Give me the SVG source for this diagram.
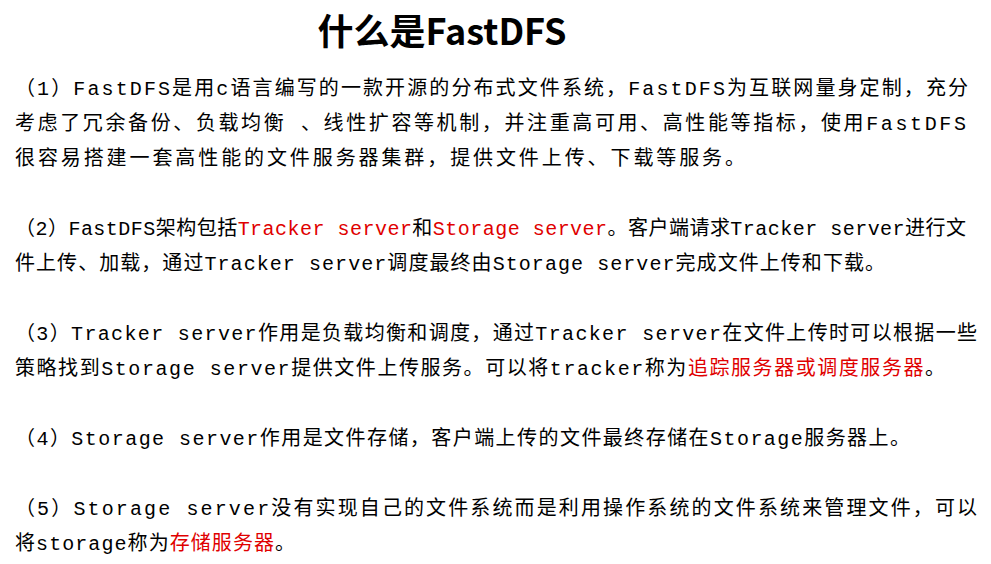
<svg xmlns="http://www.w3.org/2000/svg" width="991" height="564" viewBox="0 0 991 564">
<style>
.t{font-family:"Liberation Mono","Noto Sans CJK SC",monospace;font-size:20px;fill:#000}
.r{fill:#e00000}
.h{font-family:"Noto Sans CJK SC","Liberation Sans",sans-serif;font-size:36px;font-weight:bold;fill:#000}
</style>
<rect width="991" height="564" fill="#fff"/>
<text class="h" x="442" y="45" text-anchor="middle">什么是FastDFS</text>
<text class="t" x="15" y="95" textLength="953" lengthAdjust="spacing">（1）FastDFS是用c语言编写的一款开源的分布式文件系统，FastDFS为互联网量身定制，充分</text>
<text class="t" x="15" y="130" textLength="951" lengthAdjust="spacing">考虑了冗余备份、负载均衡 、线性扩容等机制，并注重高可用、高性能等指标，使用FastDFS</text>
<text class="t" x="15" y="165" textLength="730" lengthAdjust="spacing">很容易搭建一套高性能的文件服务器集群，提供文件上传、下载等服务。</text>
<text class="t" x="15" y="235" textLength="951" lengthAdjust="spacing">（2）FastDFS架构包括<tspan class="r">Tracker server</tspan>和<tspan class="r">Storage server</tspan>。客户端请求Tracker server进行文</text>
<text class="t" x="15" y="270" textLength="870" lengthAdjust="spacing">件上传、加载，通过Tracker server调度最终由Storage server完成文件上传和下载。</text>
<text class="t" x="15" y="340" textLength="962" lengthAdjust="spacing">（3）Tracker server作用是负载均衡和调度，通过Tracker server在文件上传时可以根据一些</text>
<text class="t" x="15" y="375" textLength="930" lengthAdjust="spacing">策略找到Storage server提供文件上传服务。可以将tracker称为<tspan class="r">追踪服务器或调度服务器</tspan>。</text>
<text class="t" x="15" y="445" textLength="895" lengthAdjust="spacing">（4）Storage server作用是文件存储，客户端上传的文件最终存储在Storage服务器上。</text>
<text class="t" x="15" y="515" textLength="962" lengthAdjust="spacing">（5）Storage server没有实现自己的文件系统而是利用操作系统的文件系统来管理文件，可以</text>
<text class="t" x="15" y="550" textLength="280" lengthAdjust="spacing">将storage称为<tspan class="r">存储服务器</tspan>。</text>
</svg>
